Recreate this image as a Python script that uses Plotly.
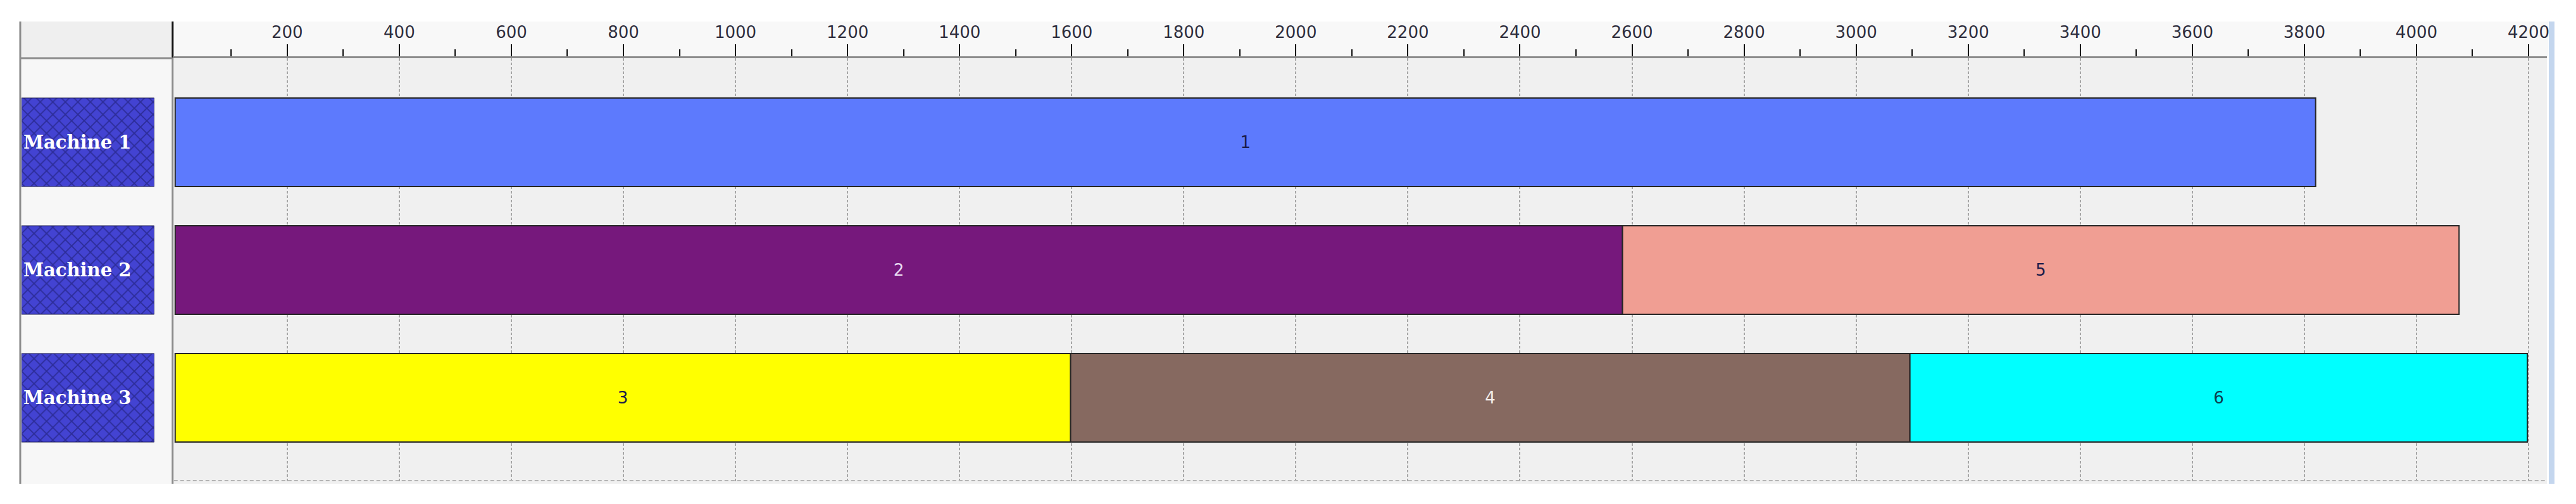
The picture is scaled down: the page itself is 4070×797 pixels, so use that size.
import plotly.graph_objects as go

# --- data ---
machines = ["Machine 1", "Machine 2", "Machine 3"]

jobs = ["1", "2", "5", "3", "4", "6"]
job_machine = ["Machine 1", "Machine 2", "Machine 2", "Machine 3", "Machine 3", "Machine 3"]
job_start = [0, 0, 2583, 0, 1598, 3096]
job_end = [3820, 2583, 4076, 1598, 3096, 4198]
job_colors = ["#5d7afd", "#76187c", "#f09e93", "#ffff00", "#866960", "#00ffff"]
job_text_colors = ["#1c1c4a", "#e8d8f0", "#1c1c4a", "#1c1c4a", "#f2ecea", "#0c3c4c"]

tick_vals = list(range(200, 4201, 200))
minor_vals = list(range(100, 4200, 200))

W, H = 4070, 797


def px(x):
    return x / W


def py(y):
    return 1 - y / H


fig = go.Figure()

# tasks on the time axis
fig.add_trace(go.Bar(
    y=job_machine,
    x=[e - s for s, e in zip(job_start, job_end)],
    base=job_start,
    orientation="h",
    width=0.693,
    marker=dict(color=job_colors, line=dict(color="#262626", width=2)),
    text=jobs,
    textposition="inside",
    insidetextanchor="middle",
    textangle=0,
    textfont=dict(family="DejaVu Sans", size=26, color=job_text_colors),
    hoverinfo="skip",
    showlegend=False,
))

# machine name boxes in the left column
fig.add_trace(go.Bar(
    y=machines,
    x=[1] * len(machines),
    orientation="h",
    width=0.693,
    xaxis="x2",
    marker=dict(
        color="#4242cf",
        line=dict(color="#1a1a50", width=1),
        pattern=dict(shape="x", size=14, solidity=0.25,
                     fgcolor="#16165e", bgcolor="#4343d2", fillmode="overlay"),
    ),
    text=machines,
    textposition="inside",
    insidetextanchor="start",
    textangle=0,
    textfont=dict(family="DejaVu Serif", size=29, color="white", weight="bold"),
    hoverinfo="skip",
    showlegend=False,
))

shapes = [
    # header band
    dict(type="rect", xref="paper", yref="paper", x0=px(32), x1=px(273), y0=py(92), y1=py(34),
         fillcolor="#efefef", line_width=0, layer="below"),
    dict(type="rect", xref="paper", yref="paper", x0=px(273), x1=px(4030), y0=py(92), y1=py(34),
         fillcolor="#f8f8f8", line_width=0, layer="below"),
    # left column
    dict(type="rect", xref="paper", yref="paper", x0=px(32), x1=px(273), y0=py(765), y1=py(92),
         fillcolor="#f7f7f7", line_width=0, layer="below"),
    # plot area
    dict(type="rect", xref="paper", yref="paper", x0=px(275), x1=px(4028), y0=py(765), y1=py(92),
         fillcolor="#f0f0f0", line_width=0, layer="below"),
    # scrollbar strip on the right
    dict(type="rect", xref="paper", yref="paper", x0=px(4031), x1=px(4040), y0=py(765), y1=py(34),
         fillcolor="#c4d6ee", line_width=0, layer="below"),
    # frame lines
    dict(type="line", xref="paper", yref="paper", x0=px(32), x1=px(32), y0=py(765), y1=py(34),
         line=dict(color="#8c8c8c", width=3)),
    dict(type="line", xref="paper", yref="paper", x0=px(273), x1=px(273), y0=py(765), y1=py(92),
         line=dict(color="#8c8c8c", width=3)),
    dict(type="line", xref="paper", yref="paper", x0=px(273), x1=px(273), y0=py(92), y1=py(34),
         line=dict(color="#111111", width=3)),
    dict(type="line", xref="paper", yref="paper", x0=px(32), x1=px(273), y0=py(92), y1=py(92),
         line=dict(color="#8c8c8c", width=3)),
    dict(type="line", xref="paper", yref="paper", x0=px(275), x1=px(4028), y0=py(760), y1=py(760),
         line=dict(color="#b4b4b4", width=2, dash="6px,4px")),
]

fig.update_layout(
    width=W,
    height=H,
    margin=dict(l=0, r=0, t=0, b=0),
    paper_bgcolor="white",
    plot_bgcolor="rgba(0,0,0,0)",
    barmode="overlay",
    shapes=shapes,
    xaxis=dict(
        domain=[px(275), px(4028)],
        range=[-2.3, 4232.8],
        side="top",
        tickvals=tick_vals,
        ticks="outside",
        ticklen=19,
        tickwidth=2,
        tickcolor="#111111",
        tickfont=dict(family="DejaVu Sans", size=26, color="#2e2e3e"),
        showline=True,
        linecolor="#8c8c8c",
        linewidth=3,
        showgrid=True,
        gridcolor="#a6a6a6",
        gridwidth=1.5,
        griddash="4px,3px",
        zeroline=False,
        minor=dict(tickvals=minor_vals, ticks="outside", ticklen=11, tickwidth=2,
                   tickcolor="#111111", showgrid=False),
    ),
    xaxis2=dict(
        domain=[px(34), px(244)],
        range=[0, 1],
        anchor="y",
        visible=False,
    ),
    yaxis=dict(
        domain=[py(762), py(92)],
        type="category",
        categoryorder="array",
        categoryarray=machines,
        range=[2.658, -0.658],
        showticklabels=False,
        showgrid=False,
        zeroline=False,
        showline=False,
        ticks="",
    ),
)

# the page body has a default 8px margin; drop it so the figure fills the window
fig.write_html("out.html", config={"displayModeBar": False},
               post_script="document.body.style.margin = '0';")
